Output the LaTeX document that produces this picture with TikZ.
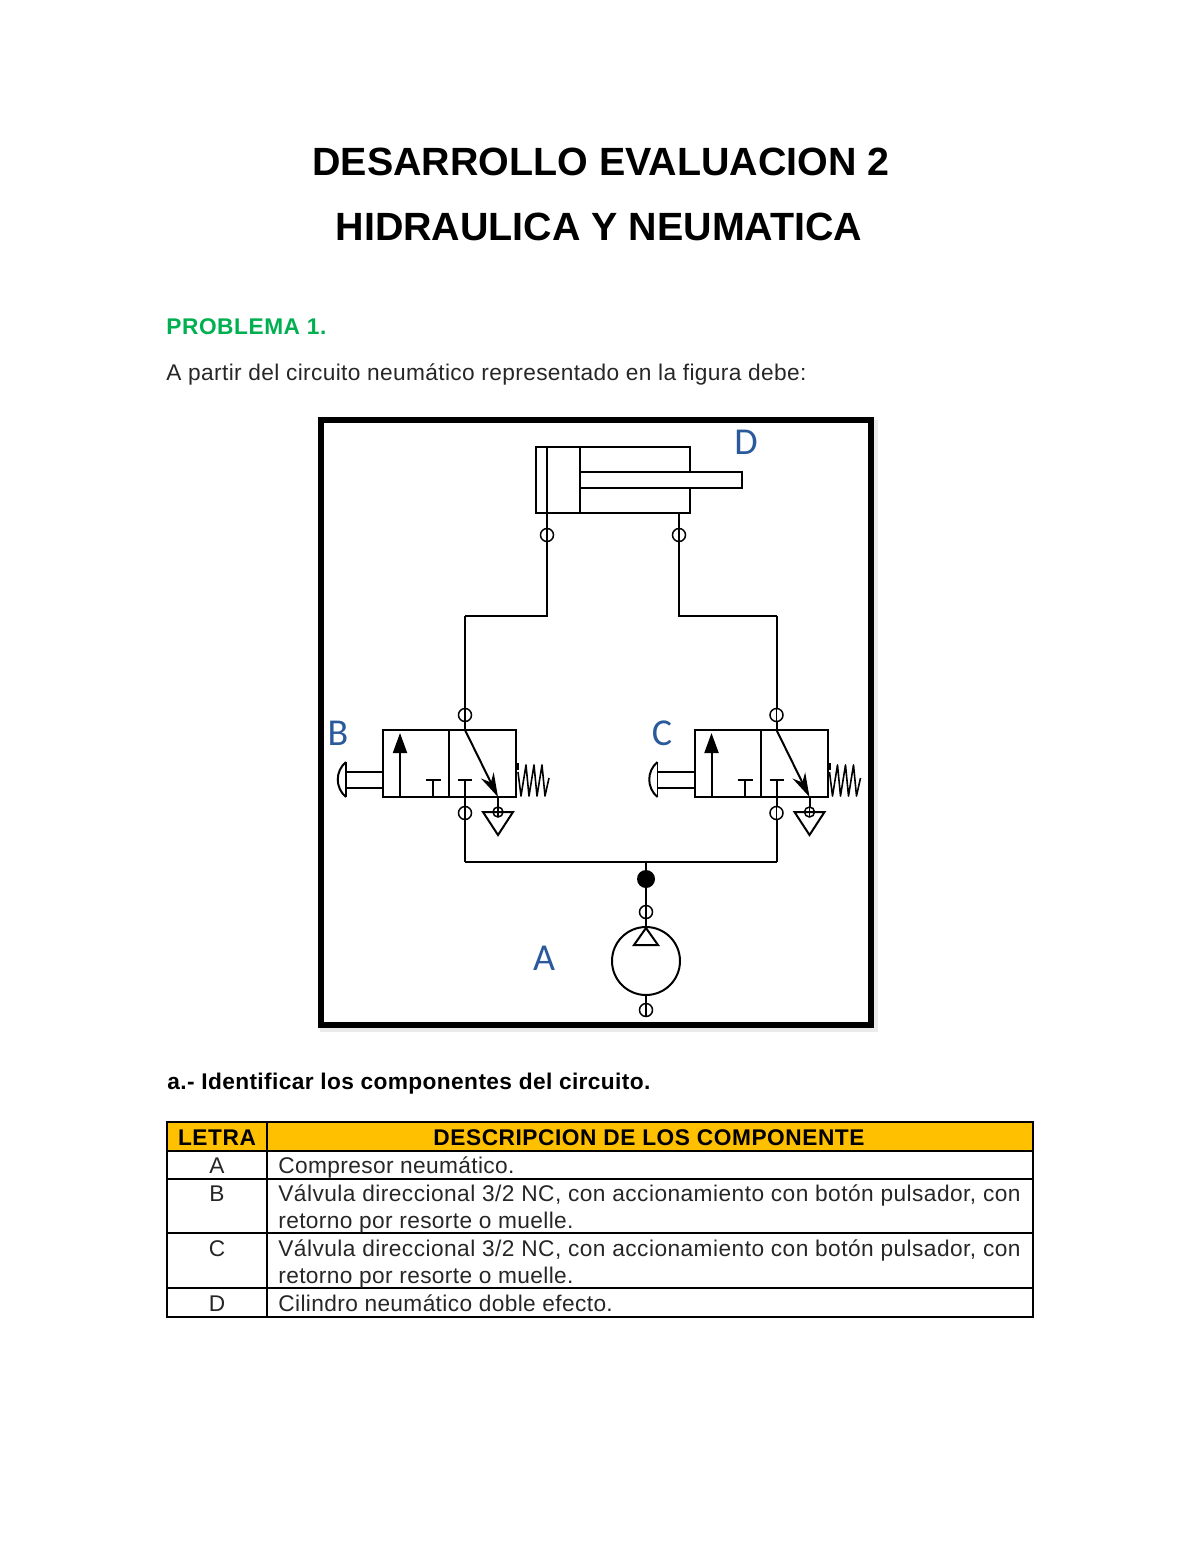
\documentclass[tikz,border=0pt]{standalone}
\usepackage{fontspec}
\setmainfont{Liberation Sans}
\newfontfamily\lblfont{Carlito}
\newfontfamily\bodyfont[LetterSpace=1.6]{Liberation Sans}
\newfontfamily\longfont[LetterSpace=2.0]{Liberation Sans}
\newfontfamily\headfont[LetterSpace=2.4]{Liberation Sans}
\newfontfamily\partfont[LetterSpace=1.7]{Liberation Sans}
\usetikzlibrary{arrows.meta}
\definecolor{lblblue}{HTML}{2A5A9C}
\definecolor{probgreen}{HTML}{00B050}
\definecolor{headfill}{HTML}{FFC000}
\def\lw{1pt}
\def\rowh{1151,1179,1233,1288}
\tikzstyle{txt}=[inner sep=0pt,anchor=base west,text=black!85,font=\fontsize{11.35}{13.5}\bodyfont]
\tikzstyle{longtxt}=[txt,font=\fontsize{11.35}{13.5}\longfont]
\tikzstyle{ttl}=[inner sep=0pt,anchor=base,font=\fontsize{19.7}{24}\selectfont\bfseries]
\tikzstyle{cell}=[inner sep=0pt,anchor=base,text=black!85,font=\fontsize{11.35}{13.5}\bodyfont]
\tikzstyle{hcell}=[inner sep=0pt,anchor=base,font=\fontsize{11.35}{13.5}\headfont\bfseries]
\tikzstyle{lbl}=[inner sep=0pt,text=lblblue,font=\fontsize{19}{22}\lblfont]
\tikzstyle{sym}=[draw,line width=\lw]
\tikzstyle{port}=[circle,draw,line width=.75pt,inner sep=0pt,minimum size=6.5pt,
  path picture={\draw[line width=.6pt](path picture bounding box.north)--(path picture bounding box.south);}]
\tikzstyle{dot}=[circle,fill=black,inner sep=0pt,minimum size=9pt]
\begin{document}
\begin{tikzpicture}[x=.5pt,y=-.5pt]
	\useasboundingbox (0,0) rectangle (1200,1553);
	% titles
	\node[ttl](title1) at (601,175){DESARROLLO EVALUACION 2};
	\node[ttl](title2) at (599,240){HIDRAULICA Y NEUMATICA};
	\node[txt,text=probgreen,font=\fontsize{11.35}{13.5}\headfont\bfseries](prob) at (166,334){PROBLEMA 1.};
	\node[txt](intro) at (166,380){A partir del circuito neumático representado en la figura debe:};
	% frame
	\draw[line width=3pt,black!8] (322.5,422.5) rectangle (875,1029);
	\draw[line width=3pt,fill=white] (320.5,419.5) rectangle (871,1024.5);
	% cylinder
	\draw[sym] (536,447) rectangle (690,513);
	\draw[sym] (547,447)--(547,513);
	\draw[sym] (580,447)--(580,513);
	\draw[sym,fill=white] (580,472) rectangle (742,488);
	\node[port](cyla) at (547,535){};
	\node[port](cylb) at (679,535){};
	\coordinate (cyltopa) at (547,513);
	\coordinate (cyltopb) at (679,513);
	\draw[sym](cyltopa)--(cyla);
	\draw[sym](cyltopb)--(cylb);
	% valves
	\foreach \nm/\dx in {b/0,c/311.5}{
		\begin{scope}[xshift=\dx*.5pt]
			\draw[sym] (383,730) rectangle (516,797);
			\draw[sym] (449,730)--(449,797);
			\draw[sym,-{Triangle[length=10pt,width=7pt]}] (400,797)--(400,733);
			\draw[sym] (433,797)--(433,780) (426,780)--(441,780);
			\draw[sym] (458,780)--(472,780) (465,780)--(465,797);
			\draw[sym,-{Stealth[length=12pt,width=7pt]}] (465,730)--(498,797);
			% button
			\draw[sym] (383,772)--(346,772) (383,788)--(346,788);
			\draw[sym,line width=.7pt] (346,762)--(346,797);
			\draw[sym] (346,762) .. controls (335,771) and (335,788) .. (346,797);
			% spring
			\fill (516,763) rectangle (519,770);
			\draw[line width=.8pt,line join=round] (518,772)--(521,796)--(526,765)--(529,796)--(534,765)--(537,796)--(542,765)--(545,796)--(549,778);
			% exhaust
			\draw[sym] (498,797)--(498,808);
			\draw[sym] (483,812)--(513,812)--(498,835)--cycle;
			\node[port,minimum size=5pt](exh\nm) at (498,812){};
			% ports
			\node[port](top\nm) at (465,715){};
			\node[port](bot\nm) at (465,813){};
			\coordinate (in\nm) at (465,730);
			\coordinate (out\nm) at (465,797);
			\coordinate (low\nm) at (465,862);
			\coordinate (up\nm) at (465,616);
		\end{scope}
		\draw[sym](top\nm)--(in\nm);
		\draw[sym](out\nm)--(bot\nm);
		\draw[sym](bot\nm)--(low\nm);
		\draw[sym](up\nm)--(top\nm);
	}
	% lines
	\coordinate (benda) at (547,616);
	\coordinate (bendb) at (679,616);
	\draw[sym](cyla)--(benda)--(upb);
	\draw[sym](cylb)--(bendb)--(upc);
	\draw[sym](lowb)--(lowc);
	% compressor
	\coordinate (tee) at (646,862);
	\node[dot](junc) at (646,879){};
	\node[port](compin) at (646,912){};
	\node[circle,draw,line width=\lw,inner sep=0pt,minimum size=34pt](comp) at (646,961){};
	\node[port](compout) at (646,1010){};
	\draw[sym](tee)--(junc);
	\draw[sym](junc)--(compin);
	\draw[sym](compin)--(comp);
	\draw[sym](comp)--(compout);
	\draw[sym] (646,928)--(634,945)--(658,945)--cycle;
	% labels
	\node[lbl](la) at (544,958){A};
	\node[lbl](lb) at (338,733){B};
	\node[lbl](lc) at (662,733){C};
	\node[lbl](ld) at (746,442){D};
	\node[txt,text=black,font=\fontsize{11.35}{13.5}\partfont\bfseries](part) at (167,1089){a.- Identificar los componentes del circuito.};
	% table
	\fill[headfill] (167,1122) rectangle (1033,1151);
	\draw[line width=.7pt] (167,1122) rectangle (1033,1317);
	\draw[line width=.7pt] (267,1122)--(267,1317);
	\foreach \yy in \rowh{
		\draw[line width=.7pt] (167,\yy)--(1033,\yy);
	}
	\node[hcell](hl) at (217,1145){LETRA};
	\node[hcell](hd) at (649,1145){DESCRIPCION DE LOS COMPONENTE};
	\node[cell](ra) at (217,1173){A};
	\node[cell](rb) at (217,1201){B};
	\node[cell](rc) at (217,1256){C};
	\node[cell](rd) at (217,1311){D};
	\node[txt](ta) at (278,1173){Compresor neumático.};
	\node[longtxt](tb) at (278,1201){Válvula direccional 3/2 NC, con accionamiento con botón pulsador, con};
	\node[txt](tbb) at (278,1228){retorno por resorte o muelle.};
	\node[longtxt](tc) at (278,1256){Válvula direccional 3/2 NC, con accionamiento con botón pulsador, con};
	\node[txt](tcc) at (278,1283){retorno por resorte o muelle.};
	\node[txt](td) at (278,1311){Cilindro neumático doble efecto.};
\end{tikzpicture}
\end{document}
